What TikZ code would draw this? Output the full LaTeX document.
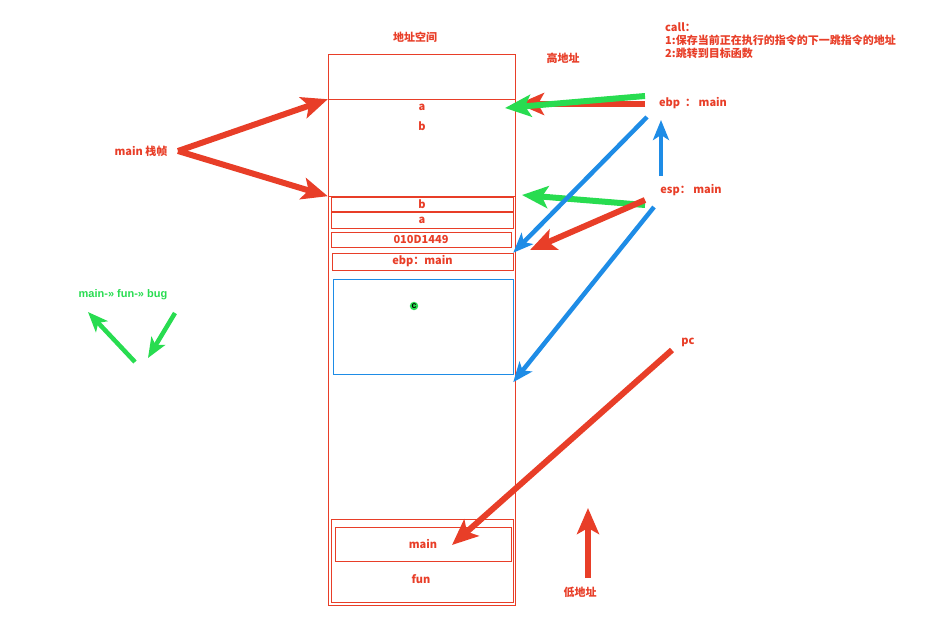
\documentclass[tikz,border=0pt]{standalone}
\usepackage{fontspec}
\setmainfont{Liberation Sans}
\newfontfamily\cjk{Noto Sans CJK SC}
\usetikzlibrary{arrows.meta, positioning}
\definecolor{ulred}{RGB}{232,62,40}
\definecolor{ulblue}{RGB}{30,140,230}
\definecolor{ulgreen}{RGB}{40,220,80}

\tikzset{
    lbl/.style={text=ulred, font=\cjk\bfseries\fontsize{11}{13}\selectfont, inner sep=1pt},
    cell/.style={draw=ulred, inner sep=0pt, font=\cjk\bfseries\fontsize{11}{13}\selectfont, text=ulred},
    fat/.style={line width=6pt, -{Stealth[length=26pt, width=22pt, inset=6pt]}},
    thin/.style={line width=4.5pt, -{Stealth[length=20pt, width=16pt, inset=5pt]}}
}

\begin{document}
\begin{tikzpicture}[x=1pt, y=-1pt]
    \useasboundingbox (0,0) rectangle (951,621);

    % the address space column
    \node[cell, minimum width=187pt, minimum height=551pt] (space) at (421.5,329.5) {};
    \node[cell, minimum width=187pt, minimum height=45pt] (top) at (421.5,76.5) {};
    \node[cell, minimum width=187pt, minimum height=97pt] (frame) at (421.5,147.5) {};
    \node[cell, minimum width=182pt, minimum height=14pt] (cb) at (422,204) {b};
    \node[cell, minimum width=182pt, minimum height=16pt] (ca) at (422,220.5) {a};
    \node[cell, minimum width=180pt, minimum height=15pt] (cret) at (421,239.5) {010D1449};
    \node[cell, minimum width=181pt, minimum height=17pt] (cebp) at (422.5,261.5) {ebp：main};
    \node[draw=ulblue, minimum width=180pt, minimum height=95pt, inner sep=0pt] (cfun) at (423,326.5) {};
    \node[cell, minimum width=182pt, minimum height=83pt] (code) at (422,560.5) {};
    \node[cell, minimum width=176pt, minimum height=34pt] (cmain) at (423,544) {main};
    \node[lbl] (cfn) at (421,579) {fun};

    \node[lbl] (va) at (422,107) {a};
    \node[lbl] (vb) at (422,126) {b};
    \node[font=\bfseries\small, text=black, circle, inner sep=0.5pt, fill=ulgreen] (vc) at (414,306) {c};

    % labels
    \node[lbl] (title) at (415,37) {地址空间};
    \node[lbl] (high) at (563,58) {高地址};
    \node[lbl] (low) at (580,592) {低地址};
    \node[lbl, align=left, anchor=north west] (call) at (664,22) {call：\\1:保存当前正在执行的指令的下一跳指令的地址\\2:跳转到目标函数};
    \node[lbl] (ebp) at (693,103) {ebp \ ： main};
    \node[lbl] (esp) at (691,190) {esp：\ main};
    \node[lbl] (pc) at (688,342) {pc};
    \node[lbl] (stack) at (141,151) {main 栈帧};
    \node[font=\bfseries\fontsize{11}{13}\selectfont, text=ulgreen] (chain) at (123,295) {main-» fun-» bug};

    % arrows
    \coordinate (s0) at (178,151);
    \draw[fat, ulred] (s0) -- (top.south west);
    \draw[fat, ulred] (s0) -- (frame.south west);
    \draw[fat, ulred] (645,104) -- (518,104);
    \draw[fat, ulgreen] (645,96) -- (505,108);
    \draw[fat, ulgreen] (645,205) -- (522,195);
    \draw[fat, ulred] (645,200) -- (530,250);
    \draw[thin, ulblue] (647,117) -- (cebp.north east);
    \draw[thin, ulblue] (661,176) -- (661,120);
    \draw[thin, ulblue] (654,207) -- ([yshift=-8pt]cfun.south east);
    \draw[fat, ulred] (672,350) -- (452,545);
    \coordinate (l0) at (588,578);
    \draw[fat, ulred] (l0) -- (588,508);
    \draw[thin, ulgreen] (135,362) -- (88,312);
    \draw[thin, ulgreen] (175,313) -- (148,358);
\end{tikzpicture}
\end{document}
